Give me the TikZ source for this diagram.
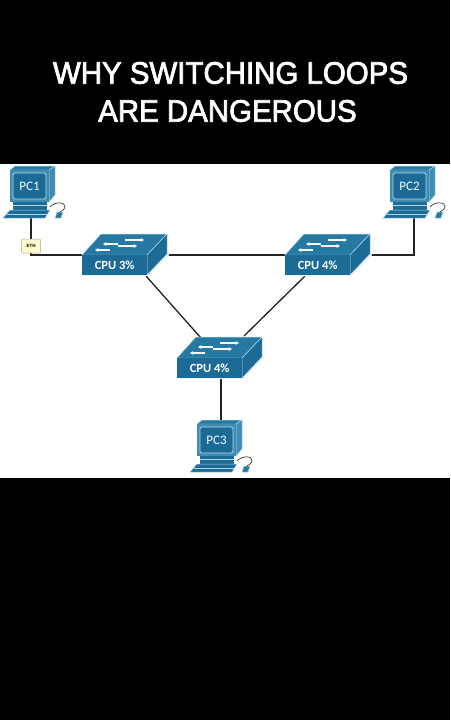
\documentclass[tikz,border=0pt]{standalone}
\usepackage{fontspec}
\setmainfont{Liberation Sans}
\newfontfamily\labelfont{Carlito}
\newfontfamily\titlefont[FakeBold=2.5]{Liberation Sans}
\usetikzlibrary{backgrounds,arrows.meta}
\definecolor{netdark}{HTML}{1B6B96}
\definecolor{nettop}{HTML}{2679A3}
\definecolor{netside}{HTML}{3F8DB3}
\definecolor{netpale}{HTML}{B5D6E6}
\definecolor{linkcol}{HTML}{222222}
\tikzset{
  x=1pt,y=-1pt,
  frontface/.style={fill=netdark,draw=none,minimum width=65pt,minimum height=20pt,inner sep=0pt,
    text=white,font=\labelfont\bfseries\fontsize{12.5}{14}\selectfont},
  topface/.style={fill=nettop,draw=netpale,line width=0.5pt},
  sideface/.style={fill=netside,draw=netpale,line width=0.5pt},
  flowarrow/.style={draw=white!85!netpale,line width=1.2pt,-{Stealth[length=3.5pt,width=4pt]}},
  flowback/.style={draw=white!85!netpale,line width=1.2pt,{Stealth[length=3.5pt,width=4pt]}-},
  link/.style={draw=linkcol,line width=1.3pt},
  screenface/.style={fill=netdark,draw=netpale,line width=0.9pt,rounded corners=1.5pt,minimum width=33pt,minimum height=26pt,inner sep=0pt,
    text=white!85!netpale,font=\labelfont\fontsize{13}{15}\selectfont},
  titletext/.style={text=white,font=\titlefont\fontsize{31}{34}\selectfont,inner sep=0pt},
  ethtag/.style={fill=yellow!20!white,draw=black!35,line width=0.5pt,rounded corners=1pt,minimum width=19pt,minimum height=14pt,inner sep=0pt,
    font=\bfseries\fontsize{4.5}{5}\selectfont}
}
% #1 name, #2 x of front-left, #3 y of front-top, #4 label
\newcommand{\netswitch}[4]{%
  \begin{scope}[shift={(#2,#3)}]
    \fill[white!75!netpale] (1,21) -- (66,21) -- (87,0) -- (87,-2) -- (66,0) -- cycle;
    \path[topface] (0,0) -- (19,-21) -- (85,-21) -- (65,0) -- cycle;
    \path[sideface,fill=netdark] (65,0) -- (85,-21) -- (85,-1) -- (65,20) -- cycle;
    \node[frontface,anchor=north west] (#1) at (0,0) {#4};
    \draw[flowback] (21,-11) -- (36,-11);
    \draw[flowarrow] (43,-15) -- (62,-15);
    \draw[flowback] (13,-5) -- (28,-5);
    \draw[flowarrow] (36,-9) -- (55,-9);
  \end{scope}}
% #1 name, #2 x shift, #3 y shift, #4 label
\newcommand{\netpc}[4]{%
  \begin{scope}[shift={(#2,#3)}]
    \path[topface] (10,170) -- (15,166) -- (55,166) -- (49,170) -- cycle;
    \path[sideface] (49,170) -- (55,166) -- (55,195) -- (49,202) -- cycle;
    \fill[netside] (10,170) rectangle (49,202);
    \node[screenface] (#1) at (29.5,186) {#4};
    \fill[netdark] (13,202) rectangle (47,205);
    \fill[netpale] (13,205) rectangle (47,206);
    \fill[netdark] (13,206) rectangle (47,210);
    \path[topface,fill=netdark] (3,218) -- (10,210) -- (50,210) -- (45,218) -- cycle;
    \draw[netpale,line width=0.6pt] (7,214) -- (47,214);
    \draw[linkcol,line width=0.6pt] (50,207) .. controls (55,201) and (66,202) .. (65,207) .. controls (64,211) and (60,211) .. (59,213);
    \path[topface] (55,218) -- (57,212) -- (63,212) -- (61,218) -- cycle;
  \end{scope}}
\begin{document}
\begin{tikzpicture}
\useasboundingbox (0,0) rectangle (450,720);
\begin{scope}[on background layer]
  \fill[black] (0,0) rectangle (450,720);
  \fill[white] (0,164) rectangle (450,478);
\end{scope}
\node[titletext,xscale=0.95] (title1) at (230.5,73) {WHY SWITCHING LOOPS};
\node[titletext,xscale=0.95] (title2) at (227.5,111) {ARE DANGEROUS};
\netpc{pc1}{0}{0}{PC1}
\netpc{pc2}{380}{0}{PC2}
\netpc{pc3}{187}{254}{PC3}
\netswitch{s1}{82}{255}{CPU 3\%}
\netswitch{s2}{285}{255}{CPU 4\%}
\netswitch{s3}{177}{358}{CPU 4\%}
\node[ethtag] (eth) at (31,246) {ETH};
\coordinate (pc1out) at (31,217);
\coordinate (corner1) at (31,255);
\coordinate (pc2out) at (414,217);
\coordinate (corner2) at (414,255);
\coordinate (s1right) at (160,255);
\coordinate (s2right) at (360,255);
\coordinate (s3left) at (201,338);
\coordinate (s3right) at (244,336);
\coordinate (s1low) at (146,276);
\coordinate (s2low) at (305,276);
\coordinate (pc3in) at (221,424);
\begin{scope}[on background layer]
  \draw[link] (pc1out) -- (eth);
  \draw[link] (eth) -- (corner1) -- (s1.north west);
  \draw[link] (s1right) -- (s2.north west);
  \draw[link] (s2right) -- (corner2) -- (pc2out);
  \draw[link] (s1low) -- (s3left);
  \draw[link] (s2low) -- (s3right);
  \draw[link] (pc3in |- s3.south) -- (pc3in);
\end{scope}
\end{tikzpicture}
\end{document}
